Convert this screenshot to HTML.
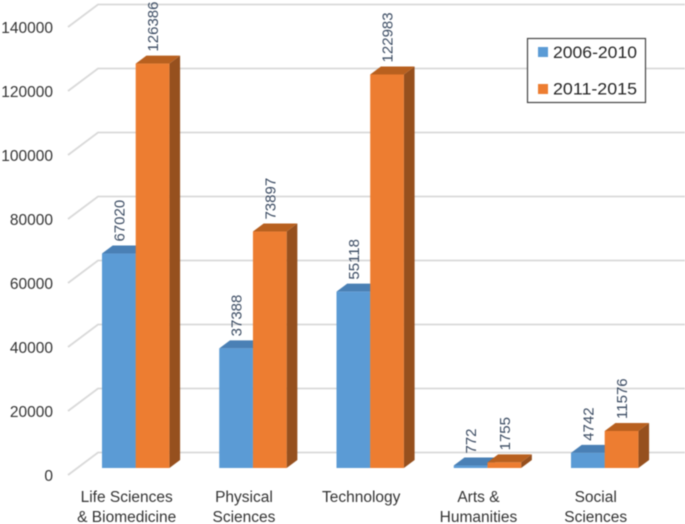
<!DOCTYPE html>
<html lang="en">
<head>
<meta charset="utf-8">
<title>Publications by research area</title>
<style>
html,body{margin:0;padding:0;background:#fff;width:685px;height:524px;overflow:hidden}
svg{display:block;filter:blur(0.4px)}
text{font-family:"Liberation Sans",sans-serif}
</style>
</head>
<body>
<svg id="chart" xmlns="http://www.w3.org/2000/svg" width="685" height="524" viewBox="0 0 685 524">
  <g id="grid"></g>
  <g id="yaxis"></g>
  <g id="bars"></g>
  <g id="values"></g>
  <g id="xaxis"></g>
  <g>
    <rect x="527.5" y="38.5" width="118" height="64" fill="#fff" stroke="#444" stroke-width="1.2"/>
    <rect x="538" y="47" width="10" height="10" fill="#5b9bd5"/>
    <text x="553" y="58" font-size="17" textLength="84" lengthAdjust="spacingAndGlyphs" fill="#262626">2006-2010</text>
    <rect x="538" y="84" width="10" height="10" fill="#ed7d31"/>
    <text x="553" y="94.5" font-size="17" textLength="84" lengthAdjust="spacingAndGlyphs" fill="#262626">2011-2015</text>
  </g>
</svg>
<script>
const categories = [["Life Sciences", "& Biomedicine"], ["Physical", "Sciences"], ["Technology"], ["Arts &", "Humanities"], ["Social", "Sciences"]];
const series2006 = [67020, 37388, 55118, 772, 4742];
const series2011 = [126386, 73897, 122983, 1755, 11576];
const yTicks = [0, 20000, 40000, 60000, 80000, 100000, 120000, 140000];

const NS = "http://www.w3.org/2000/svg";
const PX_PER_UNIT = 0.0032;
const DEPTH_X = 10.7, DEPTH_Y = 8;
const BAR_W = 33.7, GROUP_STEP = 117.25, FIRST_X = 102;

function yFront(v) { return 468 - v * PX_PER_UNIT; }
function yBack(v) { return 452.5 - v * PX_PER_UNIT; }
function yLabel(v) { return 475.5 - v * PX_PER_UNIT; }
function xGroup(i) { return FIRST_X + i * GROUP_STEP; }

function make(tag, attrs, parent, txt) {
  const el = document.createElementNS(NS, tag);
  for (const k in attrs) el.setAttribute(k, attrs[k]);
  if (txt !== undefined) el.textContent = txt;
  parent.appendChild(el);
  return el;
}

const grid = document.getElementById("grid");
const yaxis = document.getElementById("yaxis");
yTicks.forEach(function (t) {
  const line = make("polyline", {
    points: "68," + (yBack(t) + 22.5) + " 98," + yBack(t) + " 685," + yBack(t),
    fill: "none", stroke: "#d9d9d9", "stroke-width": 1.8
  }, grid);
  
  
  const label = make("text", {
    x: 53, y: yLabel(t) + 5.5, "text-anchor": "end", "font-size": 15.5, fill: "#333"
  }, yaxis, String(t));
  
  
});

const barsG = document.getElementById("bars");
const valuesG = document.getElementById("values");
const palette = [
  { front: "#5b9bd5", top: "#4a80b5", side: "#3f6f9e" },
  { front: "#ed7d31", top: "#b8601f", side: "#96501e" }
];

function drawBar(x, v, colors, seriesName) {
  const top = yFront(v), base = yFront(0);
  const g = make("g", {}, barsG);
  
  
  make("polygon", {
    points: (x + BAR_W) + "," + base + " " + (x + BAR_W + DEPTH_X) + "," + (base - DEPTH_Y) + " " +
            (x + BAR_W + DEPTH_X) + "," + (top - DEPTH_Y) + " " + (x + BAR_W) + "," + top,
    fill: colors.side
  }, g);
  make("polygon", {
    points: x + "," + top + " " + (x + DEPTH_X) + "," + (top - DEPTH_Y) + " " +
            (x + BAR_W + DEPTH_X) + "," + (top - DEPTH_Y) + " " + (x + BAR_W) + "," + top,
    fill: colors.top
  }, g);
  make("rect", { x: x, y: top, width: BAR_W, height: base - top, fill: colors.front }, g);
  const cx = x + BAR_W / 2 + 5.5, ly = top - 12;
  const label = make("text", {
    x: cx, y: ly, transform: "rotate(-90 " + cx + " " + ly + ")",
    "font-size": 15, fill: "#3c4c63"
  }, valuesG, String(v));
  
  
}

const xaxis = document.getElementById("xaxis");
categories.forEach(function (lines, i) {
  const x = xGroup(i);
  drawBar(x, series2006[i], palette[0], "2006-2010");
  drawBar(x + BAR_W, series2011[i], palette[1], "2011-2015");
  lines.forEach(function (line, j) {
    const label = make("text", {
      x: x + BAR_W - 9, y: 502 + j * 20, "text-anchor": "middle",
      "font-size": 15.5, fill: "#333"
    }, xaxis, line);
    
    
  });
});
</script>
</body>
</html>
